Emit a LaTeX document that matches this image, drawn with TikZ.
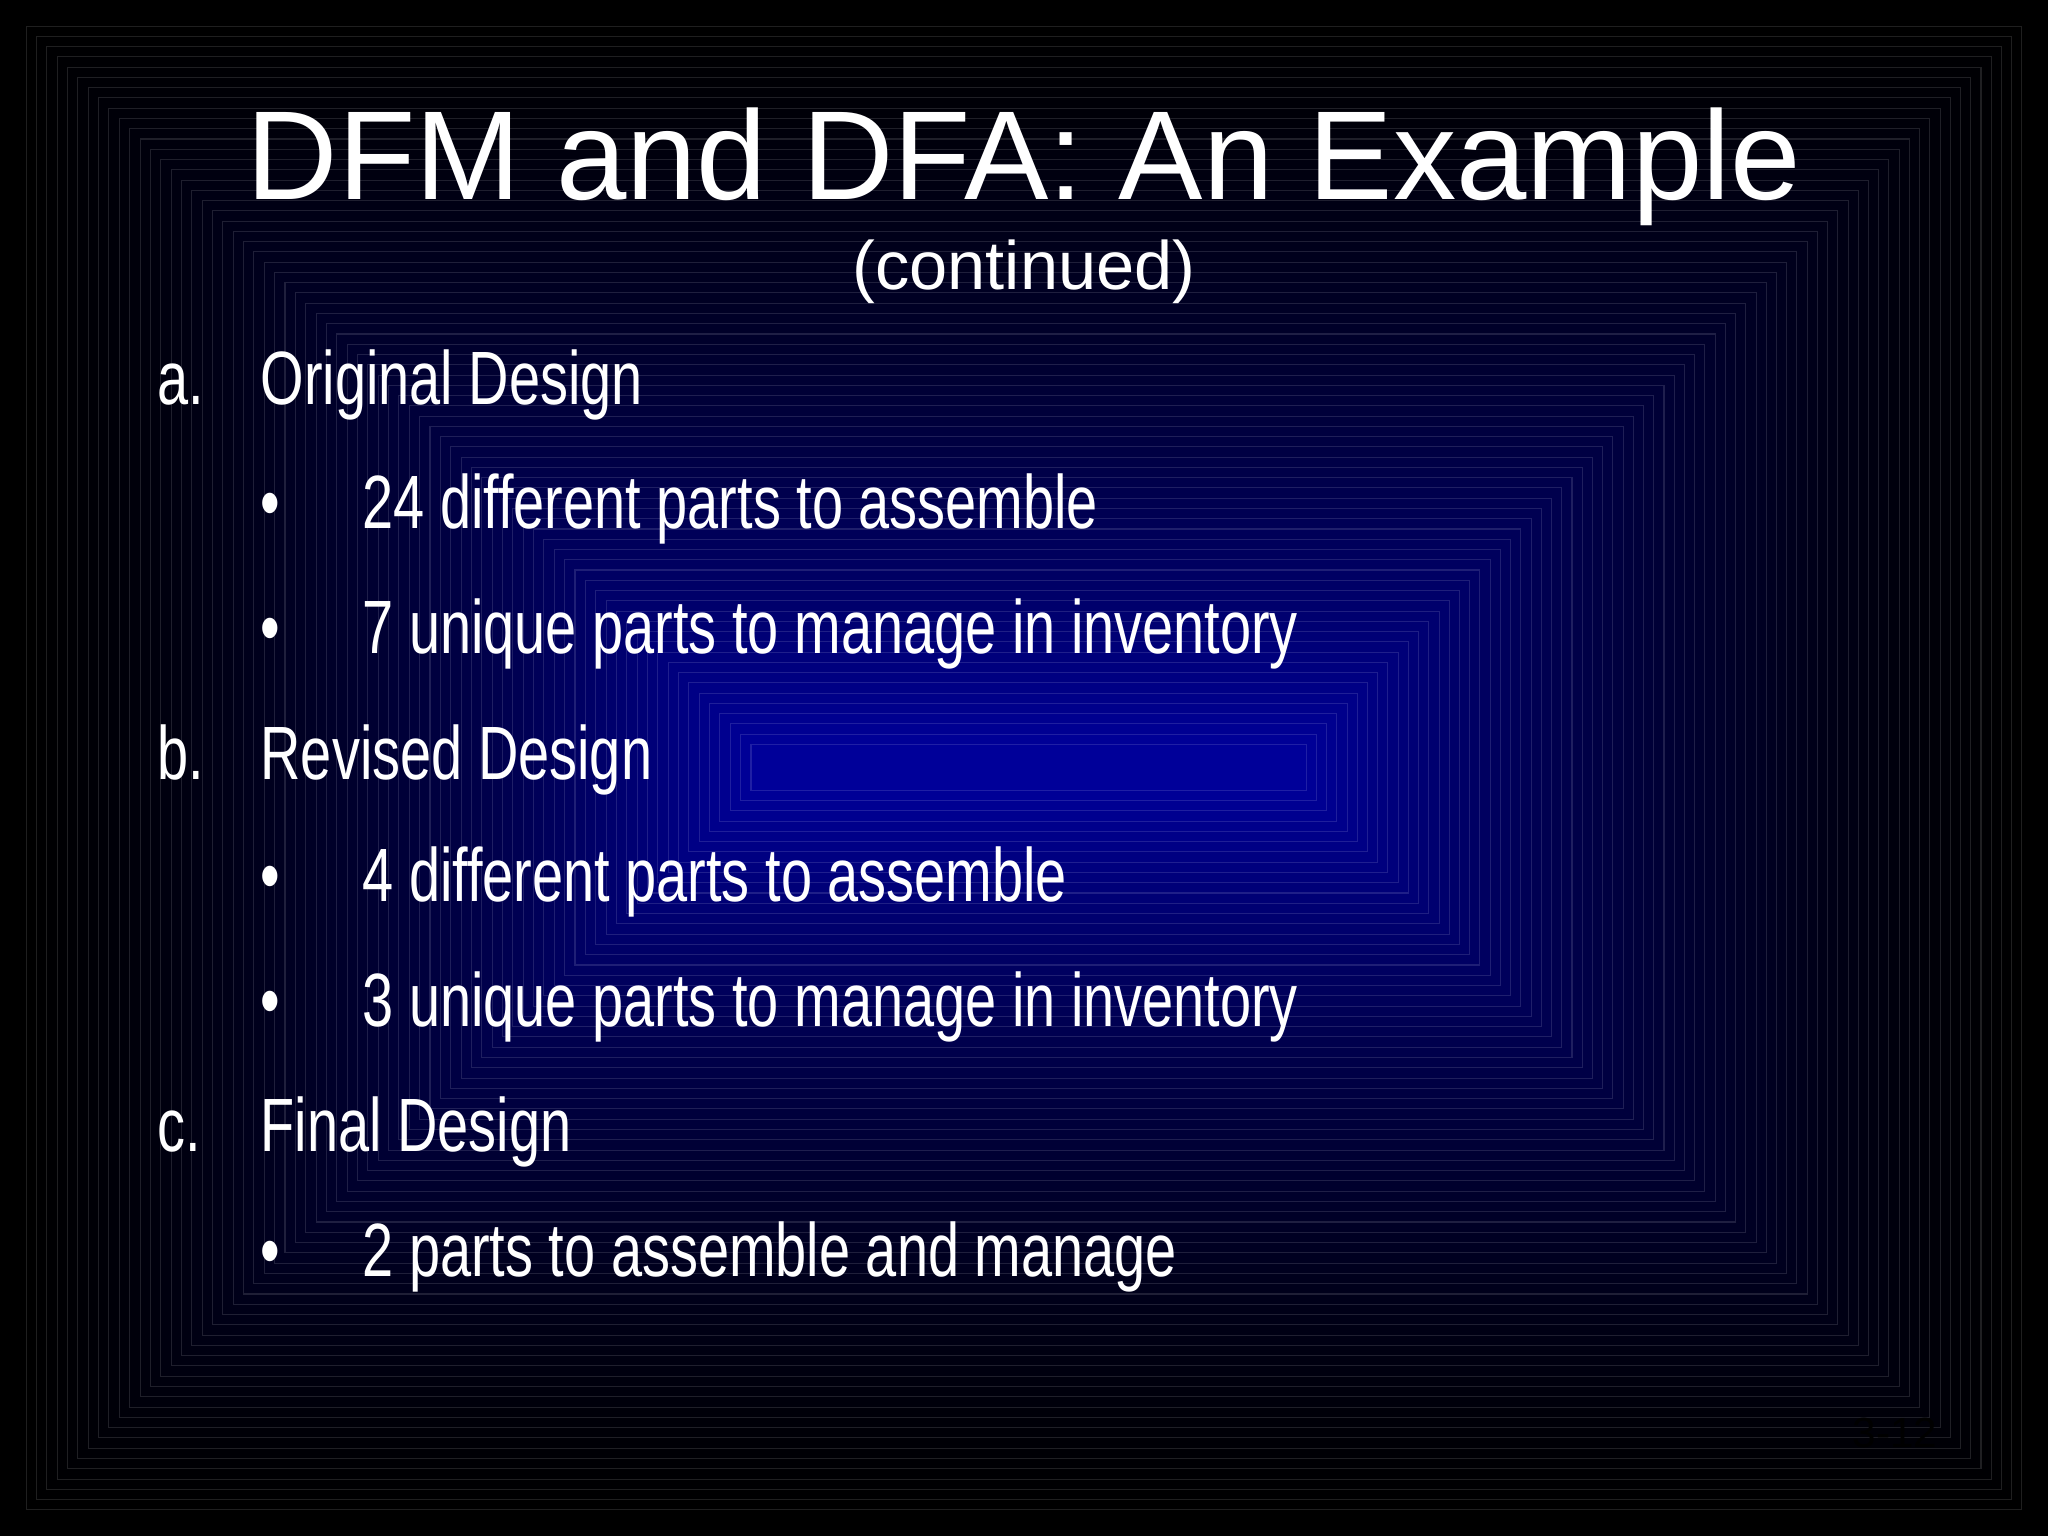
\documentclass[tikz,border=0pt]{standalone}
\usepackage{fontspec}
\setmainfont{Liberation Sans}
\newfontfamily\narrowf[FakeStretch=0.74]{Liberation Sans}
\begin{document}
\begin{tikzpicture}[x=0.013061cm,y=-0.013061cm,
  body/.style={anchor=base west,inner sep=0,text=white,font=\narrowf\fontsize{21.5}{24}\selectfont},
  ttl/.style={anchor=base,inner sep=0,text=white}]
\useasboundingbox (0,0) rectangle (1568,1176);
\fill[black] (0,0) rectangle (1568,1176);
\foreach \i in {0,...,70}{
  \pgfmathsetmacro\tt{\i/70}
  \pgfmathsetmacro\p{100*\tt*(0.4+0.6*\tt)}
  \pgfmathsetmacro\xa{20+\tt*555}
  \pgfmathsetmacro\ya{20+\tt*550}
  \pgfmathsetmacro\xb{1548-\tt*548}
  \pgfmathsetmacro\yb{1156-\tt*551}
  \colorlet{cc}{blue!60!black!\p!black}
  \filldraw[fill=cc,draw=cc!88!white,line width=0.3pt] (\xa,\ya) rectangle (\xb,\yb);
}
\node[ttl,font=\fontsize{36}{40}\selectfont] (title) at (784,153) {DFM and DFA: An Example};
\node[ttl,font=\fontsize{19.5}{22}\selectfont] (cont) at (784,222) {(continued)};
\node[body] (la) at (120,310) {a.};
\node[body] (ta) at (199,310) {Original Design};
\node[body] (b1) at (199,405) {•};
\node[body] (t1) at (277,405) {24 different parts to assemble};
\node[body] (b2) at (199,500) {•};
\node[body] (t2) at (277,500) {7 unique parts to manage in inventory};
\node[body] (lb) at (120,597) {b.};
\node[body] (tb) at (199,597) {Revised Design};
\node[body] (b3) at (199,690) {•};
\node[body] (t3) at (277,690) {4 different parts to assemble};
\node[body] (b4) at (199,786) {•};
\node[body] (t4) at (277,786) {3 unique parts to manage in inventory};
\node[body] (lc) at (120,882) {c.};
\node[body] (tc) at (199,882) {Final Design};
\node[body] (b5) at (199,977) {•};
\node[body] (t5) at (277,977) {2 parts to assemble and manage};
\node[anchor=base west,inner sep=0,text=black,font=\fontsize{12}{14}\selectfont] (pg) at (1418,1108) {3-12};
\end{tikzpicture}
\end{document}
